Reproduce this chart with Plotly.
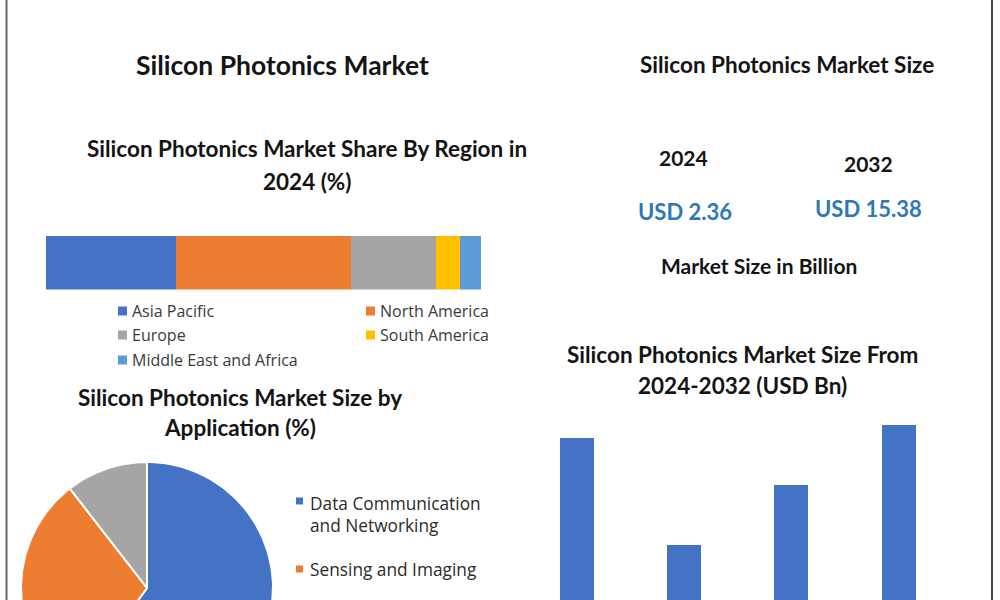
import numpy as np
import plotly.graph_objects as go

W, H = 1000, 600

# ---------------- data ----------------
regions = ["Asia Pacific", "North America", "Europe", "South America", "Middle East and Africa"]
region_share = [29.8, 40.3, 19.6, 5.4, 4.9]
region_colors = ["#4472C4", "#ED7D31", "#A5A5A5", "#FFC000", "#5B9BD5"]

applications = ["Data Communication and Networking", "Sensing and Imaging", "Others"]
application_share = [60.0, 29.5, 10.5]
application_colors = ["#4472C4", "#ED7D31", "#A5A5A5"]

kpi_years = ["2024", "2032"]
kpi_values = [2.36, 15.38]

size_periods = ["2024", "2027", "2030", "2032"]
size_values = [16.2, 5.5, 11.5, 17.5]
bar_color = "#4472C4"

TITLE_COLOR = "#141414"
TEXT_COLOR = "#3a3a3a"
KPI_COLOR = "#2E78B7"


def px(x):
    return x / W


def py(y):
    return 1 - y / H


fig = go.Figure()

# ---------------- stacked region bar ----------------
for name, val, col in zip(regions, region_share, region_colors):
    fig.add_trace(go.Bar(
        x=[val], y=["Share"], orientation="h", name=name,
        marker=dict(color=col, line=dict(width=0)),
        xaxis="x", yaxis="y", showlegend=False,
        hovertemplate=name + ": %{x}%<extra></extra>",
    ))

# ---------------- market size bars ----------------
fig.add_trace(go.Bar(
    x=size_periods, y=size_values, marker=dict(color=bar_color, line=dict(width=0)),
    xaxis="x2", yaxis="y2", showlegend=False, width=0.317,
    hovertemplate="%{x}: %{y}<extra></extra>",
))

# ---------------- application pie (drawn on cartesian axes, cut at bottom) ----------------
start = np.pi / 2
for name, val, col in zip(applications, application_share, application_colors):
    span = 2 * np.pi * val / 100.0
    t = np.linspace(start, start - span, 120)
    xs = np.concatenate([[0.0], np.cos(t), [0.0]])
    ys = np.concatenate([[0.0], np.sin(t), [0.0]])
    fig.add_trace(go.Scatter(
        x=xs, y=ys, mode="lines", fill="toself", fillcolor=col,
        line=dict(color="white", width=2), name=name,
        xaxis="x3", yaxis="y3", showlegend=False, hoveron="fills",
        hoverinfo="text", text=f"{name}: {val}%",
    ))
    start -= span

# pie geometry (pixels)
pcx, pcy, pr = 147, 588, 126
pie_x0, pie_x1 = 0, 296
pie_ytop, pie_ybot = 455, 600

annotations = []
shapes = []


def add_text(text, x, y, size, color=TITLE_COLOR, bold=True, family="Lato", xanchor="center"):
    annotations.append(dict(
        text=text, x=px(x), y=py(y), xref="paper", yref="paper",
        xanchor=xanchor, yanchor="middle", showarrow=False,
        font=dict(family=family, size=size, color=color, weight="bold" if bold else "normal"),
    ))


# titles
add_text("Silicon Photonics Market", 282, 65, 26.5)
add_text("Silicon Photonics Market Share By Region in", 307, 149, 22.5)
add_text("2024 (%)", 307, 181, 22.5)
add_text("Silicon Photonics Market Size", 787, 64, 22.5)
add_text("Market Size in Billion", 759, 265, 21)
add_text("Silicon Photonics Market Size From", 742, 354, 22.5)
add_text("2024-2032 (USD Bn)", 742, 385, 22.5)
add_text("Silicon Photonics Market Size by", 240, 397, 22.5)
add_text("Application (%)", 240, 427, 22.5)

# KPI block
kpi_pos = [(683, 158, 685, 212), (868, 163, 868, 208)]
for yr, v, (yx, yy, vx, vy) in zip(kpi_years, kpi_values, kpi_pos):
    add_text(yr, yx, yy, 21)
    add_text(f"USD {v:.2f}", vx, vy, 22, color=KPI_COLOR)

# region legend (2 columns, row-major)
leg_cols = [118, 366]
leg_rows = [311, 335, 360]
for i, (name, col) in enumerate(zip(regions, region_colors)):
    sx = leg_cols[i % 2]
    cy = leg_rows[i // 2]
    shapes.append(dict(type="rect", xref="paper", yref="paper",
                       x0=px(sx), x1=px(sx + 9), y0=py(cy + 4.5), y1=py(cy - 4.5),
                       fillcolor=col, line=dict(width=0)))
    add_text(name, sx + 12, cy, 16, color=TEXT_COLOR, bold=False, family="Open Sans", xanchor="left")

# application legend (first two entries visible)
app_leg = [(501, 514, "Data Communication<br>and Networking"), (569, 569, "Sensing and Imaging")]
for (sq_y, txt_y, label), col in zip(app_leg, application_colors):
    shapes.append(dict(type="rect", xref="paper", yref="paper",
                       x0=px(296), x1=px(303), y0=py(sq_y + 3.5), y1=py(sq_y - 3.5),
                       fillcolor=col, line=dict(width=0)))
    annotations.append(dict(
        text=label, x=px(308), y=py(txt_y), xref="paper", yref="paper",
        xanchor="left", yanchor="middle", align="left", showarrow=False,
        font=dict(family="Open Sans", size=17.3, color="#2a2a2a"),
    ))

# frame lines
shapes.append(dict(type="line", xref="paper", yref="paper", x0=px(6.5), x1=px(6.5), y0=0, y1=1,
                   line=dict(color="#5b6773", width=2)))
shapes.append(dict(type="line", xref="paper", yref="paper", x0=px(992), x1=px(992), y0=0, y1=1,
                   line=dict(color="#3f4a55", width=2)))

hidden = dict(visible=False, showgrid=False, zeroline=False, fixedrange=True)

fig.update_layout(
    width=W, height=H,
    margin=dict(l=0, r=0, t=0, b=0),
    paper_bgcolor="white", plot_bgcolor="white",
    barmode="stack", bargap=0,
    xaxis=dict(domain=[px(46), px(481)], range=[0, 100], anchor="y", **hidden),
    yaxis=dict(domain=[py(289.5), py(235.5)], range=[-0.5, 0.5], anchor="x", **hidden),
    xaxis2=dict(domain=[px(523.3), px(952.7)], anchor="y2", type="category", **hidden),
    yaxis2=dict(domain=[0, py(400)], range=[0, 20], anchor="x2", **hidden),
    xaxis3=dict(domain=[px(pie_x0), px(pie_x1)],
                range=[(pie_x0 - pcx) / pr, (pie_x1 - pcx) / pr], anchor="y3", **hidden),
    yaxis3=dict(domain=[py(pie_ybot), py(pie_ytop)],
                range=[(pcy - pie_ybot) / pr, (pcy - pie_ytop) / pr], anchor="x3", **hidden),
    annotations=annotations,
    shapes=shapes,
    showlegend=False,
)

fig.write_html("out.html")
